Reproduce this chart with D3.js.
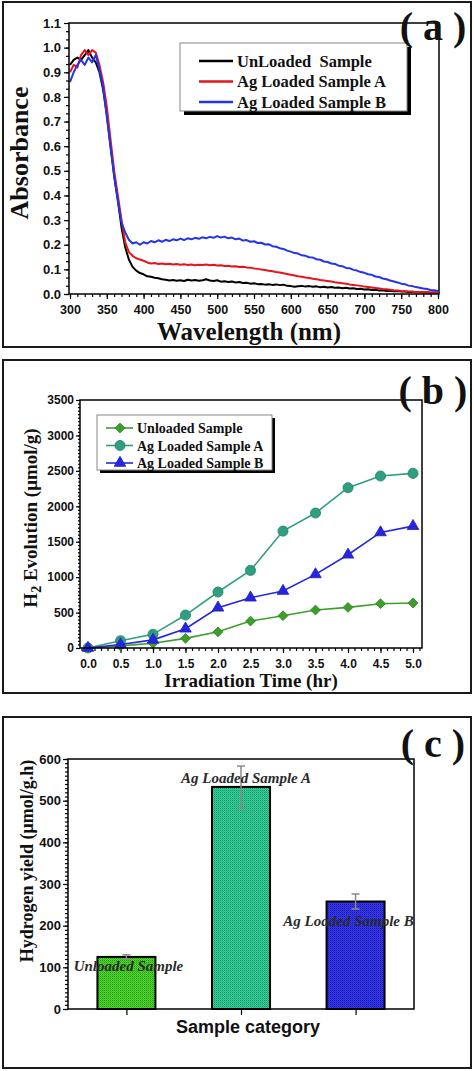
<!DOCTYPE html>
<html>
<head>
<meta charset="utf-8">
<script src="https://cdn.jsdelivr.net/npm/d3@7"></script>
<style>
  body { margin: 0; background: #fff; }
  svg text { font-family: "Liberation Serif", "Times New Roman", serif; }
</style>
</head>
<body>
<svg id="fig" width="474" height="1071"></svg>
<script>
// ---- (a) UV-vis absorbance spectra ----
const wavelength = [
  300,305,310,315,320,325,330,335,340,345, 350,355,360,365,370,375,380,385,390,395,
  400,405,410,415,420,425,430,435,440,445, 450,455,460,465,470,475,480,485,490,495,
  500,505,510,515,520,525,530,535,540,545, 550,555,560,565,570,575,580,585,590,595,
  600,605,610,615,620,625,630,635,640,645, 650,655,660,665,670,675,680,685,690,695,
  700,705,710,715,720,725,730,735,740,745, 750,755,760,765,770,775,780,785,790,795, 800]
const absUnloaded = [
  0.93,0.95,0.96,0.95,0.97,0.99,0.96,0.94,0.90,0.83, 0.73,0.60,0.48,0.38,0.27,0.19,0.14,0.11,0.095,0.085,
  0.080,0.072,0.070,0.066,0.064,0.060,0.058,0.055,0.057,0.054, 0.056,0.053,0.058,0.055,0.057,0.054,0.056,0.060,0.055,0.053,
  0.056,0.050,0.052,0.049,0.051,0.047,0.049,0.045,0.046,0.042, 0.044,0.040,0.041,0.038,0.040,0.037,0.039,0.036,0.038,0.033,
  0.032,0.029,0.031,0.033,0.030,0.032,0.029,0.031,0.027,0.029, 0.026,0.028,0.025,0.026,0.023,0.025,0.022,0.023,0.020,0.021,
  0.018,0.019,0.016,0.017,0.014,0.015,0.012,0.013,0.011,0.012, 0.010,0.010,0.008,0.009,0.007,0.008,0.006,0.007,0.005,0.006, 0.005]
const absSampleA = [
  0.90,0.93,0.92,0.97,0.99,0.97,0.99,0.98,0.93,0.86, 0.76,0.63,0.50,0.40,0.30,0.21,0.17,0.155,0.145,0.140,
  0.135,0.128,0.124,0.126,0.122,0.124,0.121,0.123,0.120,0.122, 0.119,0.121,0.118,0.120,0.117,0.119,0.118,0.120,0.117,0.119,
  0.116,0.117,0.114,0.115,0.112,0.113,0.110,0.111,0.108,0.107, 0.104,0.102,0.099,0.097,0.094,0.092,0.089,0.087,0.084,0.081,
  0.078,0.075,0.072,0.070,0.067,0.065,0.062,0.060,0.057,0.055, 0.053,0.051,0.048,0.046,0.044,0.042,0.039,0.037,0.035,0.033,
  0.030,0.028,0.026,0.024,0.022,0.020,0.019,0.017,0.015,0.014, 0.012,0.011,0.010,0.009,0.008,0.008,0.007,0.007,0.006,0.006, 0.005]
const absSampleB = [
  0.86,0.90,0.93,0.95,0.93,0.96,0.94,0.97,0.91,0.84, 0.72,0.60,0.48,0.38,0.29,0.25,0.22,0.205,0.210,0.200,
  0.210,0.205,0.215,0.210,0.218,0.212,0.220,0.215,0.222,0.218, 0.225,0.219,0.226,0.222,0.228,0.224,0.230,0.226,0.232,0.228,
  0.235,0.229,0.233,0.226,0.229,0.222,0.225,0.217,0.219,0.212, 0.214,0.207,0.208,0.201,0.202,0.194,0.192,0.186,0.183,0.176,
  0.172,0.166,0.164,0.157,0.155,0.149,0.148,0.141,0.139,0.132, 0.130,0.124,0.122,0.115,0.113,0.106,0.105,0.098,0.095,0.089,
  0.086,0.080,0.078,0.071,0.069,0.063,0.060,0.055,0.051,0.047, 0.042,0.040,0.034,0.032,0.028,0.025,0.022,0.020,0.016,0.015, 0.012]
const absNames = ["UnLoaded\u00a0 Sample", "Ag Loaded Sample A", "Ag Loaded Sample B"]
const absColors = ["#000000", "#e8141c", "#2434e8"]

// ---- (b) H2 evolution vs time ----
const timeHr = [0, 0.5, 1.0, 1.5, 2.0, 2.5, 3.0, 3.5, 4.0, 4.5, 5.0]
const h2Unloaded = [0, 30, 66, 136, 228, 380, 456, 536, 573, 625, 635]
const h2SampleA = [0, 103, 193, 465, 790, 1095, 1650, 1905, 2262, 2427, 2465]
const h2SampleB = [0, 50, 115, 272, 568, 710, 804, 1039, 1316, 1631, 1720]
const h2Names = ["Unloaded Sample", "Ag Loaded Sample A", "Ag Loaded Sample B"]
const h2Colors = ["#3c9f2c", "#2f9f80", "#2626e0"]

// ---- (c) hydrogen yield bars ----
const categories = ["Unloaded Sample", "Ag Loaded Sample A", "Ag Loaded Sample B"]
const yieldValues = [125, 533, 258]
const yieldErrors = [5, 50, 18]
const barColors = ["#4ed62e", "#35d09a", "#3838ec"]
const barDark = ["#2a9a18", "#1b9468", "#1a1aa8"]

const SANS = '"Liberation Sans", Arial, sans-serif'
const svg = d3.select("#fig")

// panel borders
;[[2, 345], [360, 333], [717, 351]].forEach(function(p) {
	svg.append("rect").attr("x", 3).attr("y", p[0]).attr("width", 468).attr("height", p[1])
		.attr("fill", "none").attr("stroke", "#1a1a1a").attr("stroke-width", 2)
})

function tickAxis(axis, tx, ty, fs) {
	const a = svg.append("g").attr("transform", "translate(" + tx + "," + ty + ")").call(axis)
	a.select(".domain").remove()
	a.selectAll(".tick line").attr("stroke", "#000").attr("stroke-width", 1.2)
	a.selectAll(".tick text").attr("fill", "#111")
		.style("font-family", SANS).style("font-weight", "bold").style("font-size", fs + "px")
	return a
}

function plotBox(x0, y0, x1, y1) {
	svg.append("rect").attr("x", x0).attr("y", y0).attr("width", x1 - x0).attr("height", y1 - y0)
		.attr("fill", "none").attr("stroke", "#000").attr("stroke-width", 1.5)
}

function panelTag(label, x, y) {
	svg.append("text").attr("x", x).attr("y", y).attr("text-anchor", "middle")
		.attr("font-size", "40px").attr("font-weight", "bold").attr("fill", "#111")
		.text(label)
}

function legendBox(x, y, w, h, sh) {
	svg.append("rect").attr("x", x + sh).attr("y", y + sh).attr("width", w).attr("height", h).attr("fill", "#000")
	svg.append("rect").attr("x", x).attr("y", y).attr("width", w).attr("height", h)
		.attr("fill", "#fff").attr("stroke", "#888").attr("stroke-width", 1)
}

// ===================== (a) =====================
const xa = d3.scaleLinear().domain([300, 800]).range([70, 438])
const ya = d3.scaleLinear().domain([0, 1.1]).range([294, 23])

tickAxis(d3.axisBottom(xa).tickValues(d3.range(300, 801, 10)).tickSize(3).tickFormat(""), 0, 294, 13)
tickAxis(d3.axisBottom(xa).tickValues(d3.range(300, 801, 50)).tickSize(5).tickPadding(6).tickFormat(d3.format("d")), 0, 294, 12.5)
tickAxis(d3.axisLeft(ya).tickValues(d3.range(0, 1.1, 0.1 / 3)).tickSize(3).tickFormat(""), 69, 0, 13)
tickAxis(d3.axisLeft(ya).tickValues(d3.range(0, 12).map(function(i) { return i / 10 })).tickSize(5).tickPadding(3).tickFormat(d3.format(".1f")), 69, 0, 13)

const lineA = d3.line().x(function(d) { return xa(d[0]) }).y(function(d) { return ya(d[1]) })
;[absUnloaded, absSampleA, absSampleB].forEach(function(s, i) {
	svg.append("path")
		.datum(wavelength.map(function(w, j) { return [w, s[j]] }))
		.attr("d", lineA).attr("fill", "none")
		.attr("stroke", absColors[i]).attr("stroke-width", 2).attr("stroke-linejoin", "round")
})
plotBox(69, 23, 439, 294)

legendBox(180, 43, 227, 68, 4)
absNames.forEach(function(n, i) {
	const yy = 61 + i * 20.5
	svg.append("line").attr("x1", 199).attr("x2", 233).attr("y1", yy).attr("y2", yy)
		.attr("stroke", absColors[i]).attr("stroke-width", 2.5)
	svg.append("text").attr("x", 237).attr("y", yy + 5.5).attr("font-size", "16.5px")
		.attr("font-weight", "bold").attr("fill", "#111").text(n)
})

svg.append("text").attr("transform", "translate(28,153) rotate(-90)").attr("text-anchor", "middle")
	.attr("font-size", "26px").attr("font-weight", "bold").attr("fill", "#111").text("Absorbance")
svg.append("text").attr("x", 249).attr("y", 340).attr("text-anchor", "middle")
	.attr("font-size", "25px").attr("font-weight", "bold").attr("fill", "#111").text("Wavelength (nm)")
panelTag("( a )", 433, 40)

// ===================== (b) =====================
const xb = d3.scaleLinear().domain([0, 5]).range([88, 413])
const yb = d3.scaleLinear().domain([0, 3500]).range([648, 400])

tickAxis(d3.axisBottom(xb).tickValues(d3.range(-0.1, 5.15, 0.1)).tickSize(3).tickFormat(""), 0, 648, 12)
tickAxis(d3.axisBottom(xb).tickValues(timeHr).tickSize(5).tickPadding(6).tickFormat(d3.format(".1f")), 0, 648, 12)
tickAxis(d3.axisLeft(yb).tickValues(d3.range(0, 3501, 50)).tickSize(2).tickFormat(""), 80, 0, 12)
tickAxis(d3.axisLeft(yb).tickValues(d3.range(0, 3501, 500)).tickSize(4).tickPadding(2).tickFormat(d3.format("d")), 80, 0, 12)

const symB = [
	d3.symbol().type(d3.symbolSquare).size(48),
	d3.symbol().type(d3.symbolCircle).size(80),
	d3.symbol().type(d3.symbolTriangle).size(58)
]
const rotB = [45, 0, 0]
const lineB = d3.line().x(function(d) { return xb(d[0]) }).y(function(d) { return yb(d[1]) })
;[h2Unloaded, h2SampleA, h2SampleB].forEach(function(s, i) {
	const pts = timeHr.map(function(t, j) { return [t, s[j]] })
	svg.append("path").datum(pts).attr("d", lineB).attr("fill", "none")
		.attr("stroke", h2Colors[i]).attr("stroke-width", 1.6)
	svg.append("g").selectAll("path").data(pts).enter().append("path")
		.attr("d", symB[i])
		.attr("transform", function(d) { return "translate(" + xb(d[0]) + "," + yb(d[1]) + ") rotate(" + rotB[i] + ")" })
		.attr("fill", h2Colors[i]).attr("stroke", d3.color(h2Colors[i]).darker(0.6)).attr("stroke-width", 0.8)
})
plotBox(80, 400, 422, 648)

legendBox(97, 415, 175, 55, 3)
h2Names.forEach(function(n, i) {
	const yy = 428 + i * 17.5
	svg.append("line").attr("x1", 106).attr("x2", 133).attr("y1", yy).attr("y2", yy)
		.attr("stroke", h2Colors[i]).attr("stroke-width", 1.6)
	svg.append("path").attr("d", symB[i]).attr("transform", "translate(120," + yy + ") rotate(" + rotB[i] + ")")
		.attr("fill", h2Colors[i]).attr("stroke", d3.color(h2Colors[i]).darker(0.6)).attr("stroke-width", 0.8)
	svg.append("text").attr("x", 137).attr("y", yy + 5).attr("font-size", "14px")
		.attr("font-weight", "bold").attr("fill", "#111").text(n)
})

const yTitleB = svg.append("text").attr("transform", "translate(37,518) rotate(-90)").attr("text-anchor", "middle")
	.attr("font-size", "19px").attr("font-weight", "bold").attr("fill", "#111")
yTitleB.append("tspan").text("H")
yTitleB.append("tspan").attr("font-size", "14px").attr("dy", 4).text("2")
yTitleB.append("tspan").attr("dy", -4).text(" Evolution (\u03bcmol/g)")
svg.append("text").attr("x", 251).attr("y", 687).attr("text-anchor", "middle")
	.attr("font-size", "19px").attr("font-weight", "bold").attr("fill", "#111").text("Irradiation Time (hr)")
panelTag("( b )", 433, 404)

// ===================== (c) =====================
const xc = d3.scalePoint().domain(categories).range([68, 414]).padding(0.51)
const yc = d3.scaleLinear().domain([0, 600]).range([1009, 759])

tickAxis(d3.axisBottom(xc).tickSize(6).tickFormat(""), 0, 1009, 13)
tickAxis(d3.axisLeft(yc).tickValues(d3.range(0, 601, 10)).tickSize(3).tickFormat(""), 68, 0, 13)
tickAxis(d3.axisLeft(yc).tickValues(d3.range(0, 601, 100)).tickSize(5).tickPadding(2).tickFormat(d3.format("d")), 68, 0, 13)

const defs = svg.append("defs")
barColors.forEach(function(c, i) {
	const p = defs.append("pattern").attr("id", "mesh" + i).attr("patternUnits", "userSpaceOnUse")
		.attr("width", 2).attr("height", 2)
	p.append("rect").attr("width", 2).attr("height", 2).attr("fill", c)
	p.append("rect").attr("width", 1).attr("height", 1).attr("fill", barDark[i])
	p.append("rect").attr("x", 1).attr("y", 1).attr("width", 1).attr("height", 1).attr("fill", barDark[i]).attr("opacity", 0.45)
})

const barW = 58
categories.forEach(function(c, i) {
	svg.append("rect").attr("x", xc(c) - barW / 2).attr("y", yc(yieldValues[i]))
		.attr("width", barW).attr("height", yc(0) - yc(yieldValues[i]))
		.attr("fill", "url(#mesh" + i + ")").attr("stroke", "#000").attr("stroke-width", 2)
})
plotBox(68, 759, 414, 1009)

// error bars
categories.forEach(function(c, i) {
	const cx = xc(c), hi = yc(yieldValues[i] + yieldErrors[i]), lo = yc(yieldValues[i] - yieldErrors[i])
	const g = svg.append("g").attr("stroke", "#8a8a8a").attr("stroke-width", 1.5)
	g.append("line").attr("x1", cx).attr("x2", cx).attr("y1", hi).attr("y2", lo)
	g.append("line").attr("x1", cx - 4).attr("x2", cx + 4).attr("y1", hi).attr("y2", hi)
	g.append("line").attr("x1", cx - 4).attr("x2", cx + 4).attr("y1", lo).attr("y2", lo)
})

// bar annotations
const labelDx = [2, 5, -7], labelDy = [14, -4, 24]
categories.forEach(function(c, i) {
	svg.append("text").attr("x", xc(c) + labelDx[i]).attr("y", yc(yieldValues[i]) + labelDy[i])
		.attr("text-anchor", "middle").attr("font-size", "15px").attr("font-weight", "bold")
		.attr("font-style", "italic").attr("fill", "#2a2a2a").text(c)
})

svg.append("text").attr("transform", "translate(33,861) rotate(-90)").attr("text-anchor", "middle")
	.attr("font-size", "18px").attr("font-weight", "bold").attr("fill", "#111").text("Hydrogen yield (\u03bcmol/g.h)")
svg.append("text").attr("x", 248).attr("y", 1033).attr("text-anchor", "middle")
	.style("font-family", SANS).attr("font-size", "18px").attr("font-weight", "bold").attr("fill", "#111")
	.text("Sample category")
panelTag("( c )", 433, 757)
</script>
</body>
</html>
